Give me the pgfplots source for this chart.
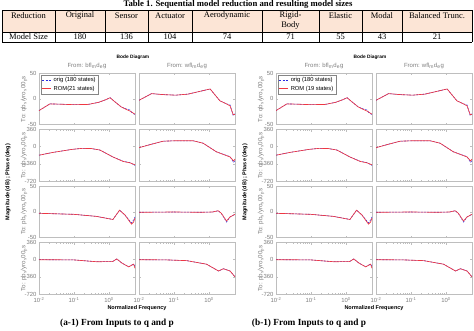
\documentclass[border=0pt]{standalone}
\usepackage{fontspec}
\setmainfont{Liberation Serif}
\setsansfont{Liberation Sans}
\usepackage{pgfplots}
\pgfplotsset{compat=1.18}
\usepackage{pgfplotstable}

\definecolor{hdr}{RGB}{252,229,214}
\definecolor{romred}{RGB}{240,55,65}
\definecolor{origblue}{RGB}{45,45,225}
\definecolor{axgray}{RGB}{190,190,190}
\definecolor{txtgray}{RGB}{125,125,125}

% row 1 (magnitude, input 1 / input 2)
\pgfplotstableread{
f rom orig
0.01 -23 -23
0.0204 -10 -10
0.0398 -10.5 -10.5
0.1 -11.5 -11.5
0.251 -11 -11
0.501 -7 -7
0.794 -2 -2
1.072 2 2
1.413 -5 -5
2.239 -16 -16
3.162 -21 -20
3.981 -24 -22
4.467 -26 -27
5.495 -30 -31
}\tAa
\pgfplotstableread{
f rom orig
0.01 -3 -3
0.0229 10 10
0.0501 8 8
0.112 7 7
0.251 9 9
0.490 13.6 13.6
1.072 19 19
1.585 5 5
2.042 -4 -4
3.162 -10 -10
3.981 -14 -12
4.898 -31 -33
5.495 -30 -29
}\tAb
% row 2 (phase)
\pgfplotstableread{
f rom orig
0.01 -179 -179
0.0251 -120 -120
0.0871 -57 -57
0.170 -35 -35
0.316 -40 -40
0.550 -71 -71
1.288 -216 -216
2.512 -309 -305
3.981 -340 -335
5.495 -380 -392
}\tBa
\pgfplotstableread{
f rom orig
0.01 -21 -21
0.0251 60 60
0.0490 115 115
0.1 123 123
0.355 123 123
0.676 73 73
1.622 -108 -108
3.981 -216 -210
5.012 -300 -330
5.495 -260 -290
}\tBb
% row 3 (magnitude)
\pgfplotstableread{
f rom orig
0.01 -3 -3
0.1 -5 -5
0.437 -9 -9
1.288 -15 -15
1.995 3 3
2.818 -6 -6
4.365 -24 -22
5.012 -20 -16
5.495 -12 -10
}\tCa
\pgfplotstableread{
f rom orig
0.01 -1 -1
0.1 -0.5 -0.5
0.550 -1 -1
1.259 -0.5 -0.5
1.820 2 2
2.239 -3 -3
3.162 -18 -20
3.981 -10 -10
5.495 -5 -5
}\tCb
% row 4 (phase)
\pgfplotstableread{
f rom orig
0.01 0 0
0.1 -5 -5
0.437 -43 -43
1.259 -40 -40
1.660 15 15
2.344 -72 -72
3.631 -150 -150
5.012 -95 -90
5.495 -180 -150
}\tDa
\pgfplotstableread{
f rom orig
0.01 0 0
0.0631 -5 -5
0.229 -20 -20
0.851 -95 -95
1.862 -238 -238
2.570 -190 -190
3.981 -238 -238
5.495 -360 -360
}\tDb

\pgfplotsset{
  bodeax/.style={scale only axis, width=96pt, height=51.5pt,
    xmin=0.01, xmax=5.5,
    axis line style={axgray, line width=0.5pt},
    every tick/.style={axgray, line width=0.35pt},
    major tick length=2pt, minor tick length=1pt,
    xtick={0.01,0.1,1}, xticklabels={},
    ticklabel style={font=\sffamily\fontsize{5.9}{6}\selectfont, text=txtgray},
    yticklabel style={xshift=1pt}},
  lmagax/.style={ymin=-50, ymax=50, ytick={-50,0,50}, yticklabels={-50,0,50}},
  lphax/.style={ymin=-720, ymax=360, ytick={-720,-360,0,360}, yticklabels={-720,-360,0,360}},
  rmagax/.style={ymin=-50, ymax=50, ytick={-50,0,50}, yticklabels={}},
  rphax/.style={ymin=-720, ymax=360, ytick={-720,-360,0,360}, yticklabels={}},
  botax/.style={xticklabels={10\textsuperscript{-2},10\textsuperscript{-1},10\textsuperscript{0}}},
  origst/.style={origblue, line width=0.55pt, dash pattern=on 2pt off 1.2pt},
  romst/.style={romred, line width=0.65pt},
}

\newcommand\pairplot[1]{%
  \addplot[origst] table[x=f,y=orig]{#1};
  \addplot[romst] table[x=f,y=rom]{#1};}

\newcommand\bodepanel[4]{%
  \pgfmathsetmacro\xL{#1+39}%
  \pgfmathsetmacro\xR{#1+139}%
  \begin{axis}[xmode=log, bodeax, lmagax, anchor=north west, at={(\xL pt,-73pt)},
     legend style={at={(0.025,0.96)}, anchor=north west,
       font=\sffamily\fontsize{5.8}{6}\selectfont, draw=axgray!70!black, fill=white,
       inner sep=0.5pt, row sep=-1.6pt, cells={anchor=west}},
     legend image code/.code={\draw[##1] (0pt,0pt) -- (9pt,0pt);}]
    \pairplot{\tAa}
    \legend{orig (180 states)\hspace{14pt},#2}
  \end{axis}
  \begin{axis}[xmode=log, bodeax, rmagax, anchor=north west, at={(\xR pt,-73pt)}] \pairplot{\tAb} \end{axis}
  \begin{axis}[xmode=log, bodeax, lphax, anchor=north west, at={(\xL pt,-129.5pt)}] \pairplot{\tBa} \end{axis}
  \begin{axis}[xmode=log, bodeax, rphax, anchor=north west, at={(\xR pt,-129.5pt)}] \pairplot{\tBb} \end{axis}
  \begin{axis}[xmode=log, bodeax, lmagax, anchor=north west, at={(\xL pt,-186pt)}] \pairplot{\tCa} \end{axis}
  \begin{axis}[xmode=log, bodeax, rmagax, anchor=north west, at={(\xR pt,-186pt)}] \pairplot{\tCb} \end{axis}
  \begin{axis}[xmode=log, bodeax, lphax, botax, anchor=north west, at={(\xL pt,-242.5pt)}] \pairplot{\tDa} \end{axis}
  \begin{axis}[xmode=log, bodeax, rphax, botax, anchor=north west, at={(\xR pt,-242.5pt)}] \pairplot{\tDb} \end{axis}
  \node[font=\sffamily\bfseries\fontsize{4.8}{5}\selectfont] at ({#1+133},-57.5) {Bode Diagram};
  \node[font=\sffamily\fontsize{6}{6}\selectfont, text=txtgray] at ({#1+87},-66) {From: bfl\textsubscript{m}d\textsubscript{e}g};
  \node[font=\sffamily\fontsize{6}{6}\selectfont, text=txtgray] at ({#1+187},-66) {From: wfl\textsubscript{m}d\textsubscript{e}g};
  \foreach \yy/\nm in {99/qb, 155.25/qb, 211.75/pb, 268.25/pb}{
    \node[font=\sffamily\fontsize{6.2}{6}\selectfont, text=txtgray, rotate=90] at ({#1+24},-\yy)
      {To: \nm\textsubscript{s}/yro\textsubscript{s}00\textsubscript{p}s};}
  \node[font=\sffamily\bfseries\fontsize{5.5}{6}\selectfont, rotate=90] at ({#1+8},-182) {Magnitude (dB) ; Phase (deg)};
  \node[font=\sffamily\bfseries\fontsize{5.5}{6}\selectfont] at ({#1+137},-308) {Normalized Frequency};
  \node[font=\bfseries\fontsize{9.3}{10}\selectfont] at (#4,-323) {#3};
}

\begin{document}
\begin{tikzpicture}[x=1pt,y=1pt]
\useasboundingbox (0,0) rectangle (474,-330);
% ---- Table ----
\node[font=\bfseries\fontsize{8.7}{9}\selectfont] at (238,-4.5) {Table 1. Sequential model reduction and resulting model sizes};
\fill[hdr] (2,-10) rectangle (472,-32);
\foreach \x in {2,55,105,148,192,262,319,362,402,472}{\draw[line width=0.6pt] (\x,-10) -- (\x,-42);}
\foreach \y in {10,32,42}{\draw[line width=0.6pt] (2,-\y) -- (472,-\y);}
\begin{scope}[every node/.style={font=\fontsize{8.5}{9}\selectfont, inner sep=0pt}]
\node at (28.5,-15.5) {Reduction};
\node at (80,-15.5) {Original};
\node at (126.5,-15.5) {Sensor};
\node at (170,-15.5) {Actuator};
\node at (227,-15.5) {Aerodynamic};
\node at (290.5,-15.5) {Rigid-};
\node at (290.5,-25.5) {Body};
\node at (340.5,-15.5) {Elastic};
\node at (382,-15.5) {Modal};
\node at (437,-15.5) {Balanced Trunc.};
\node at (28.5,-37) {Model Size};
\node at (80,-37) {180};
\node at (126.5,-37) {136};
\node at (170,-37) {104};
\node at (227,-37) {74};
\node at (290.5,-37) {71};
\node at (340.5,-37) {55};
\node at (382,-37) {43};
\node at (437,-37) {21};
\end{scope}
% ---- Bode panels ----
\bodepanel{0}{ROM(21 states)}{(a-1) From Inputs to q and p}{117}
\bodepanel{237}{ROM (19 states)}{(b-1) From Inputs to q and p}{309}
\end{tikzpicture}
\end{document}
